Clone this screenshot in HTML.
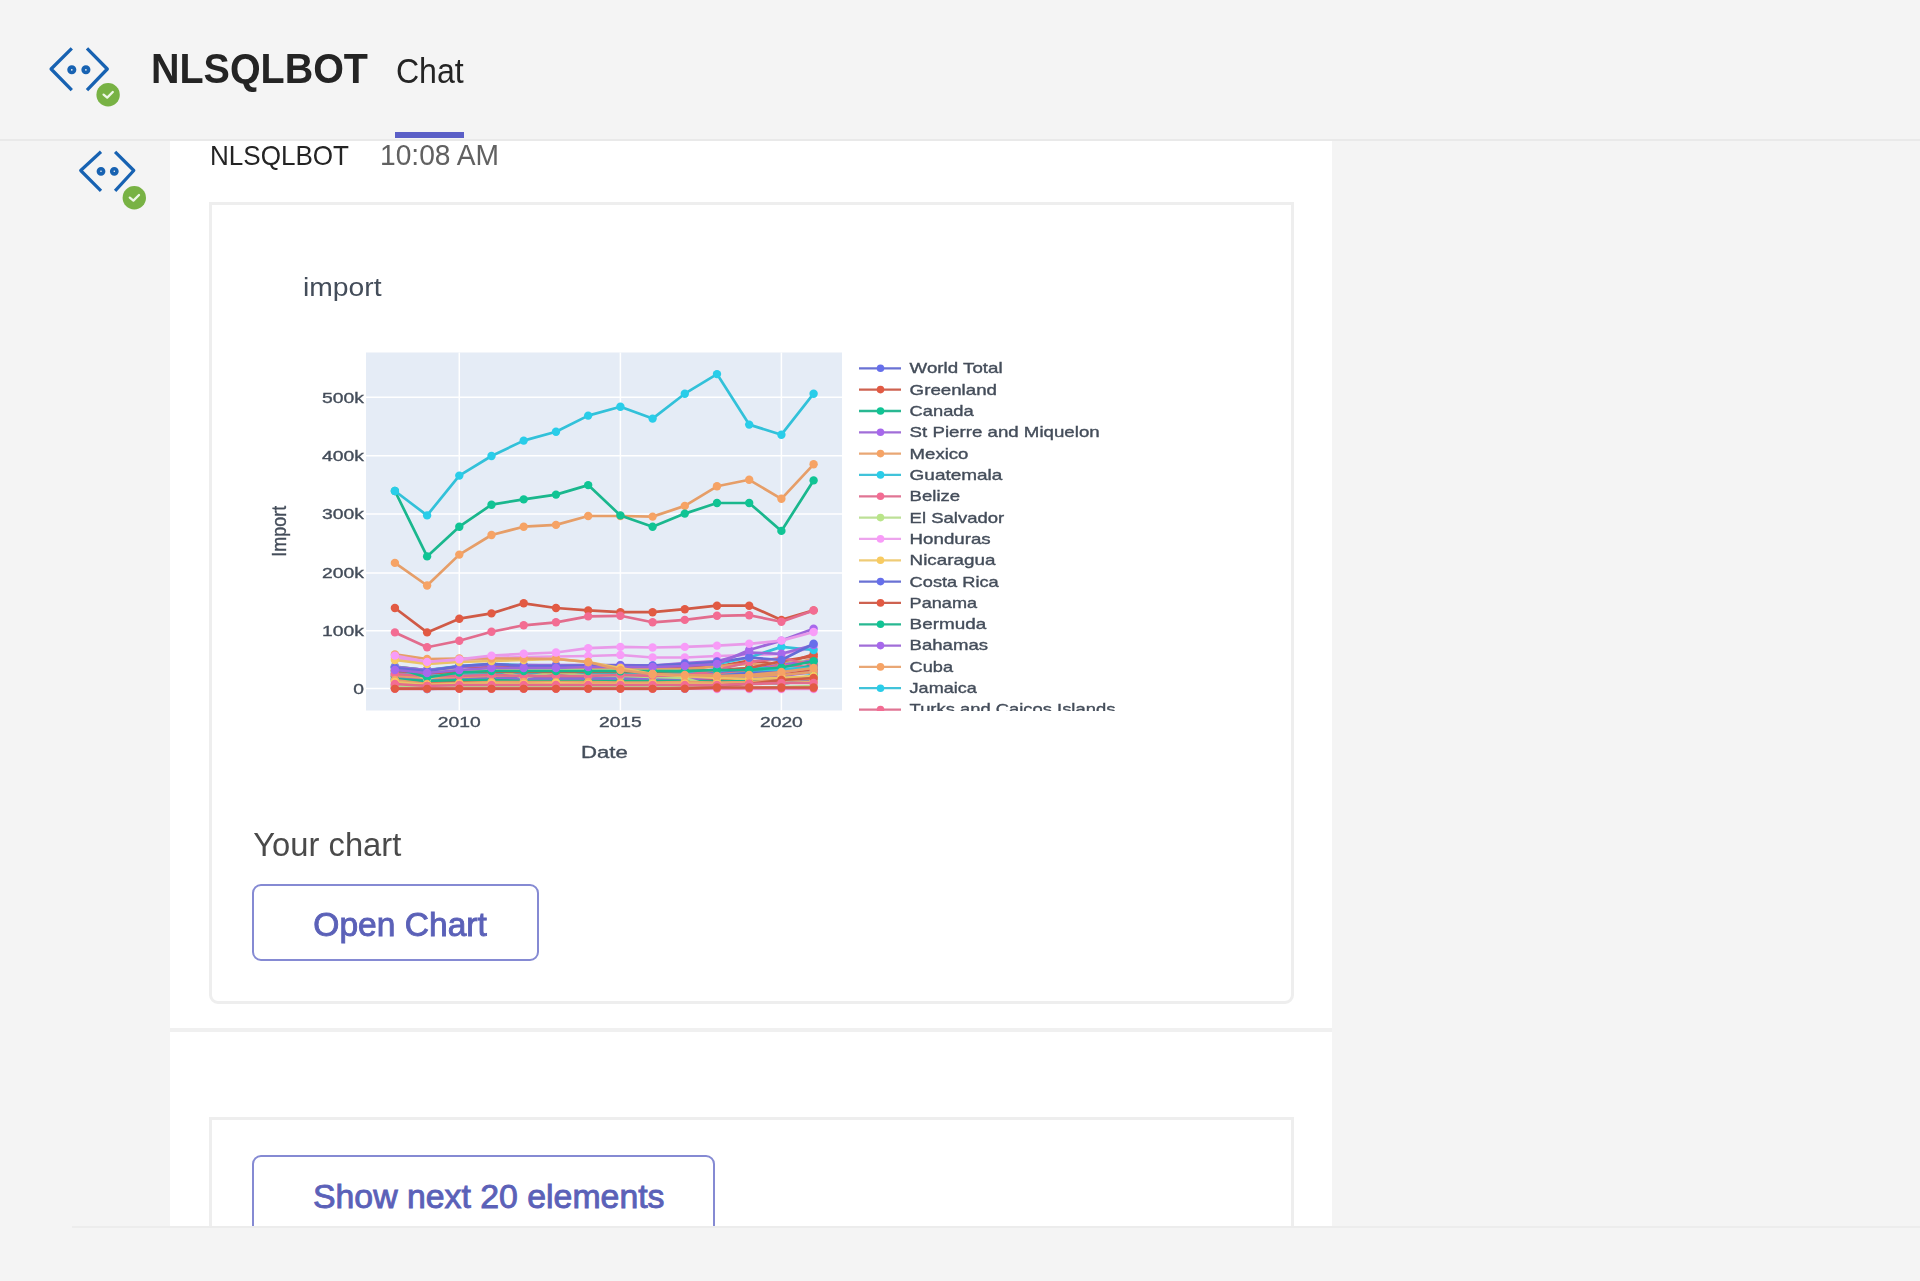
<!DOCTYPE html>
<html><head><meta charset="utf-8">
<style>
html,body{margin:0;padding:0;}
html{background:#f4f4f4;}
#wrap{position:absolute;left:0;top:0;width:1920px;height:1281px;overflow:hidden;filter:blur(0.45px);}
body{width:1920px;height:1281px;position:relative;overflow:hidden;background:#f4f4f4;font-family:"Liberation Sans",sans-serif;}
.abs{position:absolute;}
#hdrline{left:0;top:139px;width:1920px;height:2px;background:#e9e9e9;}
#panel1{left:170px;top:141px;width:1162px;height:887px;background:#fff;}
#gap{left:170px;top:1028px;width:1162px;height:4px;background:#f0f0f0;}
#panel2{left:170px;top:1032px;width:1162px;height:194px;background:#fff;}
#bottom{left:0;top:1226px;width:1920px;height:55px;background:#f4f4f4;}
#bline{left:72px;top:1226px;width:1848px;height:2px;background:#ececec;}
#card1{left:209px;top:202px;width:1079px;height:796px;border:3px solid #eeeeee;border-radius:0 0 9px 9px;background:#fff;}
#card2{left:209px;top:1117px;width:1079px;height:200px;border:3px solid #eeeeee;background:#fff;}
#tabline{left:395px;top:132px;width:69px;height:6px;background:#5b5fc7;}
.btn{border:2px solid #858ad3;border-radius:9px;background:#fff;box-sizing:border-box;}
#btn1{left:252px;top:884px;width:287px;height:77px;}
#btn2{left:252px;top:1155px;width:463px;height:100px;}
svg text{font-family:"Liberation Sans",sans-serif;}
.ct text{stroke:#444d5a;stroke-width:0.35px;}
</style></head><body><div id="wrap">
<div class="abs" id="hdrline"></div>
<div class="abs" id="panel1"></div>
<div class="abs" id="gap"></div>
<div class="abs" id="panel2"></div>
<div class="abs" id="card1"></div>
<div class="abs" id="card2"></div>
<div class="abs btn" id="btn2"></div>
<svg class="abs" style="left:0;top:1100px" width="1920" height="126" viewBox="0 1100 1920 126"><text x="313.00" y="1207.50" font-size="33" font-weight="normal" fill="#5b61b8" textLength="351.50" lengthAdjust="spacingAndGlyphs" stroke="#5b61b8" stroke-width="0.9">Show next 20 elements</text></svg>
<div class="abs" id="bottom"></div><div class="abs" id="bline"></div>

<svg class="abs" style="left:0;top:0" width="1920" height="260" viewBox="0 0 1920 260">
  <g fill="none" stroke="#1762b2" stroke-width="3.3" stroke-linecap="butt" stroke-linejoin="round">
    <polyline points="71.8,48.4 51.1,69 71.8,90.1"/>
    <polyline points="87,48.4 107.3,69 87,90.1"/>
    <circle cx="71.8" cy="69.8" r="2.7" stroke-width="3.7"/>
    <circle cx="85.9" cy="69.8" r="2.7" stroke-width="3.7"/>
  </g>
  <circle cx="108.1" cy="94.8" r="11.7" fill="#78b244"/>
  <polyline points="103.6,94.6 107.2,97.6 112.8,92" fill="none" stroke="#eef7e6" stroke-width="2.3" stroke-linecap="round" stroke-linejoin="round"/>
  <g fill="none" stroke="#1762b2" stroke-width="3.2" stroke-linecap="butt" stroke-linejoin="round">
    <polyline points="101,151.8 80.7,170.5 101,190.8"/>
    <polyline points="115.1,151.8 133.8,170.5 115.1,190.8"/>
    <circle cx="101" cy="171.3" r="2.6" stroke-width="3.6"/>
    <circle cx="114.3" cy="171.3" r="2.6" stroke-width="3.6"/>
  </g>
  <circle cx="134.3" cy="197.8" r="11.7" fill="#78b244"/>
  <polyline points="129.8,197.6 133.4,200.6 139,195" fill="none" stroke="#eef7e6" stroke-width="2.3" stroke-linecap="round" stroke-linejoin="round"/>
  <text x="151.00" y="83.40" font-size="41.8" font-weight="bold" fill="#242424" textLength="216.98" lengthAdjust="spacingAndGlyphs" >NLSQLBOT</text>
<text x="395.90" y="83.40" font-size="35.5" font-weight="normal" fill="#242424" textLength="67.81" lengthAdjust="spacingAndGlyphs" >Chat</text>
<text x="210.00" y="165.30" font-size="28" font-weight="normal" fill="#242424" textLength="139.00" lengthAdjust="spacingAndGlyphs" >NLSQLBOT</text>
<text x="380.00" y="165.20" font-size="28.8" font-weight="normal" fill="#616161" textLength="119.00" lengthAdjust="spacingAndGlyphs" >10:08 AM</text>
</svg>
<div class="abs" id="tabline"></div>

<svg class="abs" style="left:0;top:0" width="1920" height="1000" viewBox="0 0 1920 1000">
  <text x="303.00" y="295.90" font-size="25.5" font-weight="normal" fill="#444d5a" textLength="78.60" lengthAdjust="spacingAndGlyphs" >import</text>
  <rect x="366" y="352.5" width="476" height="358" fill="#e5ecf6"/>
  <line x1="366" y1="397.3" x2="842" y2="397.3" stroke="#fff" stroke-width="1.5"/><line x1="366" y1="455.7" x2="842" y2="455.7" stroke="#fff" stroke-width="1.5"/><line x1="366" y1="514.1" x2="842" y2="514.1" stroke="#fff" stroke-width="1.5"/><line x1="366" y1="572.9" x2="842" y2="572.9" stroke="#fff" stroke-width="1.5"/><line x1="366" y1="630.7" x2="842" y2="630.7" stroke="#fff" stroke-width="1.5"/><line x1="366" y1="688.6" x2="842" y2="688.6" stroke="#fff" stroke-width="1.5"/>
  <line x1="459.3" y1="352.5" x2="459.3" y2="710.5" stroke="#fff" stroke-width="1.5"/><line x1="620.4" y1="352.5" x2="620.4" y2="710.5" stroke="#fff" stroke-width="1.5"/><line x1="781.4" y1="352.5" x2="781.4" y2="710.5" stroke="#fff" stroke-width="1.5"/>
  <defs><clipPath id="pc"><rect x="366" y="352.5" width="476" height="358"/></clipPath>
  <clipPath id="lc"><rect x="850" y="352" width="400" height="359"/></clipPath></defs>
  <g clip-path="url(#pc)">
  <g fill="#e25a43"><polyline points="394.9,666.6 427.1,670.3 459.3,666.4 491.5,667.6 523.7,667.1 556.0,666.4 588.2,667.5 620.4,666.4 652.6,667.3 684.8,666.4 717.0,666.5 749.2,660.6 781.4,664.3 813.6,654.3" fill="none" stroke="#d05a46" stroke-width="2.7" stroke-linejoin="round"/><circle cx="394.9" cy="666.6" r="4.2"/><circle cx="427.1" cy="670.3" r="4.2"/><circle cx="459.3" cy="666.4" r="4.2"/><circle cx="491.5" cy="667.6" r="4.2"/><circle cx="523.7" cy="667.1" r="4.2"/><circle cx="556.0" cy="666.4" r="4.2"/><circle cx="588.2" cy="667.5" r="4.2"/><circle cx="620.4" cy="666.4" r="4.2"/><circle cx="652.6" cy="667.3" r="4.2"/><circle cx="684.8" cy="666.4" r="4.2"/><circle cx="717.0" cy="666.5" r="4.2"/><circle cx="749.2" cy="660.6" r="4.2"/><circle cx="781.4" cy="664.3" r="4.2"/><circle cx="813.6" cy="654.3" r="4.2"/></g>
<g fill="#f6a365"><polyline points="394.9,670.3 427.1,670.6 459.3,670.0 491.5,668.6 523.7,668.3 556.0,668.2 588.2,668.7 620.4,669.9 652.6,668.4 684.8,669.3 717.0,666.4 749.2,663.8 781.4,666.4 813.6,658.8" fill="none" stroke="#e69e68" stroke-width="2.7" stroke-linejoin="round"/><circle cx="394.9" cy="670.3" r="4.2"/><circle cx="427.1" cy="670.6" r="4.2"/><circle cx="459.3" cy="670.0" r="4.2"/><circle cx="491.5" cy="668.6" r="4.2"/><circle cx="523.7" cy="668.3" r="4.2"/><circle cx="556.0" cy="668.2" r="4.2"/><circle cx="588.2" cy="668.7" r="4.2"/><circle cx="620.4" cy="669.9" r="4.2"/><circle cx="652.6" cy="668.4" r="4.2"/><circle cx="684.8" cy="669.3" r="4.2"/><circle cx="717.0" cy="666.4" r="4.2"/><circle cx="749.2" cy="663.8" r="4.2"/><circle cx="781.4" cy="666.4" r="4.2"/><circle cx="813.6" cy="658.8" r="4.2"/></g>
<g fill="#b9e589"><polyline points="394.9,670.5 427.1,672.7 459.3,669.9 491.5,671.0 523.7,670.8 556.0,669.7 588.2,670.5 620.4,670.4 652.6,671.2 684.8,670.9 717.0,670.1 749.2,668.4 781.4,661.2 813.6,661.4" fill="none" stroke="#b4da8a" stroke-width="2.7" stroke-linejoin="round"/><circle cx="394.9" cy="670.5" r="4.2"/><circle cx="427.1" cy="672.7" r="4.2"/><circle cx="459.3" cy="669.9" r="4.2"/><circle cx="491.5" cy="671.0" r="4.2"/><circle cx="523.7" cy="670.8" r="4.2"/><circle cx="556.0" cy="669.7" r="4.2"/><circle cx="588.2" cy="670.5" r="4.2"/><circle cx="620.4" cy="670.4" r="4.2"/><circle cx="652.6" cy="671.2" r="4.2"/><circle cx="684.8" cy="670.9" r="4.2"/><circle cx="717.0" cy="670.1" r="4.2"/><circle cx="749.2" cy="668.4" r="4.2"/><circle cx="781.4" cy="661.2" r="4.2"/><circle cx="813.6" cy="661.4" r="4.2"/></g>
<g fill="#666feb"><polyline points="394.9,673.5 427.1,675.5 459.3,673.8 491.5,672.4 523.7,673.3 556.0,673.1 588.2,673.0 620.4,672.7 652.6,673.7 684.8,673.9 717.0,671.3 749.2,672.0 781.4,666.7 813.6,660.5" fill="none" stroke="#646cd7" stroke-width="2.7" stroke-linejoin="round"/><circle cx="394.9" cy="673.5" r="4.2"/><circle cx="427.1" cy="675.5" r="4.2"/><circle cx="459.3" cy="673.8" r="4.2"/><circle cx="491.5" cy="672.4" r="4.2"/><circle cx="523.7" cy="673.3" r="4.2"/><circle cx="556.0" cy="673.1" r="4.2"/><circle cx="588.2" cy="673.0" r="4.2"/><circle cx="620.4" cy="672.7" r="4.2"/><circle cx="652.6" cy="673.7" r="4.2"/><circle cx="684.8" cy="673.9" r="4.2"/><circle cx="717.0" cy="671.3" r="4.2"/><circle cx="749.2" cy="672.0" r="4.2"/><circle cx="781.4" cy="666.7" r="4.2"/><circle cx="813.6" cy="660.5" r="4.2"/></g>
<g fill="#a768ec"><polyline points="394.9,673.9 427.1,674.8 459.3,673.4 491.5,672.7 523.7,672.5 556.0,672.4 588.2,674.1 620.4,672.6 652.6,672.9 684.8,673.2 717.0,669.3 749.2,669.9 781.4,664.8 813.6,660.6" fill="none" stroke="#9d67da" stroke-width="2.7" stroke-linejoin="round"/><circle cx="394.9" cy="673.9" r="4.2"/><circle cx="427.1" cy="674.8" r="4.2"/><circle cx="459.3" cy="673.4" r="4.2"/><circle cx="491.5" cy="672.7" r="4.2"/><circle cx="523.7" cy="672.5" r="4.2"/><circle cx="556.0" cy="672.4" r="4.2"/><circle cx="588.2" cy="674.1" r="4.2"/><circle cx="620.4" cy="672.6" r="4.2"/><circle cx="652.6" cy="672.9" r="4.2"/><circle cx="684.8" cy="673.2" r="4.2"/><circle cx="717.0" cy="669.3" r="4.2"/><circle cx="749.2" cy="669.9" r="4.2"/><circle cx="781.4" cy="664.8" r="4.2"/><circle cx="813.6" cy="660.6" r="4.2"/></g>
<g fill="#f36c93"><polyline points="394.9,674.7 427.1,678.4 459.3,676.1 491.5,674.2 523.7,674.2 556.0,674.4 588.2,674.4 620.4,675.0 652.6,675.2 684.8,674.4 717.0,674.3 749.2,671.9 781.4,665.4 813.6,667.1" fill="none" stroke="#e26c8d" stroke-width="2.7" stroke-linejoin="round"/><circle cx="394.9" cy="674.7" r="4.2"/><circle cx="427.1" cy="678.4" r="4.2"/><circle cx="459.3" cy="676.1" r="4.2"/><circle cx="491.5" cy="674.2" r="4.2"/><circle cx="523.7" cy="674.2" r="4.2"/><circle cx="556.0" cy="674.4" r="4.2"/><circle cx="588.2" cy="674.4" r="4.2"/><circle cx="620.4" cy="675.0" r="4.2"/><circle cx="652.6" cy="675.2" r="4.2"/><circle cx="684.8" cy="674.4" r="4.2"/><circle cx="717.0" cy="674.3" r="4.2"/><circle cx="749.2" cy="671.9" r="4.2"/><circle cx="781.4" cy="665.4" r="4.2"/><circle cx="813.6" cy="667.1" r="4.2"/></g>
<g fill="#f8cb61"><polyline points="394.9,676.2 427.1,680.7 459.3,677.9 491.5,678.1 523.7,677.9 556.0,677.0 588.2,677.0 620.4,676.3 652.6,677.6 684.8,676.2 717.0,675.8 749.2,674.9 781.4,674.1 813.6,672.5" fill="none" stroke="#eac367" stroke-width="2.7" stroke-linejoin="round"/><circle cx="394.9" cy="676.2" r="4.2"/><circle cx="427.1" cy="680.7" r="4.2"/><circle cx="459.3" cy="677.9" r="4.2"/><circle cx="491.5" cy="678.1" r="4.2"/><circle cx="523.7" cy="677.9" r="4.2"/><circle cx="556.0" cy="677.0" r="4.2"/><circle cx="588.2" cy="677.0" r="4.2"/><circle cx="620.4" cy="676.3" r="4.2"/><circle cx="652.6" cy="677.6" r="4.2"/><circle cx="684.8" cy="676.2" r="4.2"/><circle cx="717.0" cy="675.8" r="4.2"/><circle cx="749.2" cy="674.9" r="4.2"/><circle cx="781.4" cy="674.1" r="4.2"/><circle cx="813.6" cy="672.5" r="4.2"/></g>
<g fill="#10c494"><polyline points="394.9,676.6 427.1,681.1 459.3,678.0 491.5,676.9 523.7,677.1 556.0,677.4 588.2,677.4 620.4,676.8 652.6,678.6 684.8,678.9 717.0,675.8 749.2,675.3 781.4,672.6 813.6,665.0" fill="none" stroke="#1ab78d" stroke-width="2.7" stroke-linejoin="round"/><circle cx="394.9" cy="676.6" r="4.2"/><circle cx="427.1" cy="681.1" r="4.2"/><circle cx="459.3" cy="678.0" r="4.2"/><circle cx="491.5" cy="676.9" r="4.2"/><circle cx="523.7" cy="677.1" r="4.2"/><circle cx="556.0" cy="677.4" r="4.2"/><circle cx="588.2" cy="677.4" r="4.2"/><circle cx="620.4" cy="676.8" r="4.2"/><circle cx="652.6" cy="678.6" r="4.2"/><circle cx="684.8" cy="678.9" r="4.2"/><circle cx="717.0" cy="675.8" r="4.2"/><circle cx="749.2" cy="675.3" r="4.2"/><circle cx="781.4" cy="672.6" r="4.2"/><circle cx="813.6" cy="665.0" r="4.2"/></g>
<g fill="#29cde9"><polyline points="394.9,679.3 427.1,680.7 459.3,677.3 491.5,678.3 523.7,677.0 556.0,678.2 588.2,679.3 620.4,679.0 652.6,678.6 684.8,677.6 717.0,675.8 749.2,672.6 781.4,669.2 813.6,674.2" fill="none" stroke="#32c1d9" stroke-width="2.7" stroke-linejoin="round"/><circle cx="394.9" cy="679.3" r="4.2"/><circle cx="427.1" cy="680.7" r="4.2"/><circle cx="459.3" cy="677.3" r="4.2"/><circle cx="491.5" cy="678.3" r="4.2"/><circle cx="523.7" cy="677.0" r="4.2"/><circle cx="556.0" cy="678.2" r="4.2"/><circle cx="588.2" cy="679.3" r="4.2"/><circle cx="620.4" cy="679.0" r="4.2"/><circle cx="652.6" cy="678.6" r="4.2"/><circle cx="684.8" cy="677.6" r="4.2"/><circle cx="717.0" cy="675.8" r="4.2"/><circle cx="749.2" cy="672.6" r="4.2"/><circle cx="781.4" cy="669.2" r="4.2"/><circle cx="813.6" cy="674.2" r="4.2"/></g>
<g fill="#f89cf8"><polyline points="394.9,683.4 427.1,685.7 459.3,683.3 491.5,683.1 523.7,681.8 556.0,682.5 588.2,682.2 620.4,681.4 652.6,681.4 684.8,682.0 717.0,681.7 749.2,675.6 781.4,673.7 813.6,668.7" fill="none" stroke="#e99ae9" stroke-width="2.7" stroke-linejoin="round"/><circle cx="394.9" cy="683.4" r="4.2"/><circle cx="427.1" cy="685.7" r="4.2"/><circle cx="459.3" cy="683.3" r="4.2"/><circle cx="491.5" cy="683.1" r="4.2"/><circle cx="523.7" cy="681.8" r="4.2"/><circle cx="556.0" cy="682.5" r="4.2"/><circle cx="588.2" cy="682.2" r="4.2"/><circle cx="620.4" cy="681.4" r="4.2"/><circle cx="652.6" cy="681.4" r="4.2"/><circle cx="684.8" cy="682.0" r="4.2"/><circle cx="717.0" cy="681.7" r="4.2"/><circle cx="749.2" cy="675.6" r="4.2"/><circle cx="781.4" cy="673.7" r="4.2"/><circle cx="813.6" cy="668.7" r="4.2"/></g>
<g fill="#e25a43"><polyline points="394.9,681.0 427.1,683.4 459.3,681.0 491.5,682.0 523.7,682.6 556.0,682.5 588.2,681.6 620.4,682.0 652.6,682.4 684.8,680.7 717.0,680.2 749.2,676.6 781.4,675.1 813.6,669.8" fill="none" stroke="#d05a46" stroke-width="2.7" stroke-linejoin="round"/><circle cx="394.9" cy="681.0" r="4.2"/><circle cx="427.1" cy="683.4" r="4.2"/><circle cx="459.3" cy="681.0" r="4.2"/><circle cx="491.5" cy="682.0" r="4.2"/><circle cx="523.7" cy="682.6" r="4.2"/><circle cx="556.0" cy="682.5" r="4.2"/><circle cx="588.2" cy="681.6" r="4.2"/><circle cx="620.4" cy="682.0" r="4.2"/><circle cx="652.6" cy="682.4" r="4.2"/><circle cx="684.8" cy="680.7" r="4.2"/><circle cx="717.0" cy="680.2" r="4.2"/><circle cx="749.2" cy="676.6" r="4.2"/><circle cx="781.4" cy="675.1" r="4.2"/><circle cx="813.6" cy="669.8" r="4.2"/></g>
<g fill="#f6a365"><polyline points="394.9,686.0 427.1,687.1 459.3,684.6 491.5,685.9 523.7,685.4 556.0,684.1 588.2,684.0 620.4,684.0 652.6,685.8 684.8,685.6 717.0,684.7 749.2,678.3 781.4,680.3 813.6,680.1" fill="none" stroke="#e69e68" stroke-width="2.7" stroke-linejoin="round"/><circle cx="394.9" cy="686.0" r="4.2"/><circle cx="427.1" cy="687.1" r="4.2"/><circle cx="459.3" cy="684.6" r="4.2"/><circle cx="491.5" cy="685.9" r="4.2"/><circle cx="523.7" cy="685.4" r="4.2"/><circle cx="556.0" cy="684.1" r="4.2"/><circle cx="588.2" cy="684.0" r="4.2"/><circle cx="620.4" cy="684.0" r="4.2"/><circle cx="652.6" cy="685.8" r="4.2"/><circle cx="684.8" cy="685.6" r="4.2"/><circle cx="717.0" cy="684.7" r="4.2"/><circle cx="749.2" cy="678.3" r="4.2"/><circle cx="781.4" cy="680.3" r="4.2"/><circle cx="813.6" cy="680.1" r="4.2"/></g>
<g fill="#b9e589"><polyline points="394.9,687.2 427.1,689.0 459.3,687.9 491.5,686.7 523.7,687.7 556.0,687.6 588.2,686.1 620.4,686.2 652.6,686.3 684.8,686.2 717.0,684.0 749.2,682.4 781.4,676.8 813.6,679.5" fill="none" stroke="#b4da8a" stroke-width="2.7" stroke-linejoin="round"/><circle cx="394.9" cy="687.2" r="4.2"/><circle cx="427.1" cy="689.0" r="4.2"/><circle cx="459.3" cy="687.9" r="4.2"/><circle cx="491.5" cy="686.7" r="4.2"/><circle cx="523.7" cy="687.7" r="4.2"/><circle cx="556.0" cy="687.6" r="4.2"/><circle cx="588.2" cy="686.1" r="4.2"/><circle cx="620.4" cy="686.2" r="4.2"/><circle cx="652.6" cy="686.3" r="4.2"/><circle cx="684.8" cy="686.2" r="4.2"/><circle cx="717.0" cy="684.0" r="4.2"/><circle cx="749.2" cy="682.4" r="4.2"/><circle cx="781.4" cy="676.8" r="4.2"/><circle cx="813.6" cy="679.5" r="4.2"/></g>
<g fill="#666feb"><polyline points="394.9,687.9 427.1,689.0 459.3,688.1 491.5,688.1 523.7,688.1 556.0,686.9 588.2,687.9 620.4,687.3 652.6,686.9 684.8,688.8 717.0,687.0 749.2,682.8 781.4,683.7 813.6,680.1" fill="none" stroke="#646cd7" stroke-width="2.7" stroke-linejoin="round"/><circle cx="394.9" cy="687.9" r="4.2"/><circle cx="427.1" cy="689.0" r="4.2"/><circle cx="459.3" cy="688.1" r="4.2"/><circle cx="491.5" cy="688.1" r="4.2"/><circle cx="523.7" cy="688.1" r="4.2"/><circle cx="556.0" cy="686.9" r="4.2"/><circle cx="588.2" cy="687.9" r="4.2"/><circle cx="620.4" cy="687.3" r="4.2"/><circle cx="652.6" cy="686.9" r="4.2"/><circle cx="684.8" cy="688.8" r="4.2"/><circle cx="717.0" cy="687.0" r="4.2"/><circle cx="749.2" cy="682.8" r="4.2"/><circle cx="781.4" cy="683.7" r="4.2"/><circle cx="813.6" cy="680.1" r="4.2"/></g>
<g fill="#a768ec"><polyline points="394.9,678.0 427.1,680.0 459.3,679.0 491.5,679.0 523.7,679.0 556.0,679.0 588.2,679.0 620.4,679.0 652.6,679.0 684.8,679.0 717.0,678.0 749.2,677.0 781.4,676.0 813.6,672.0" fill="none" stroke="#9d67da" stroke-width="2.7" stroke-linejoin="round"/><circle cx="394.9" cy="678.0" r="4.2"/><circle cx="427.1" cy="680.0" r="4.2"/><circle cx="459.3" cy="679.0" r="4.2"/><circle cx="491.5" cy="679.0" r="4.2"/><circle cx="523.7" cy="679.0" r="4.2"/><circle cx="556.0" cy="679.0" r="4.2"/><circle cx="588.2" cy="679.0" r="4.2"/><circle cx="620.4" cy="679.0" r="4.2"/><circle cx="652.6" cy="679.0" r="4.2"/><circle cx="684.8" cy="679.0" r="4.2"/><circle cx="717.0" cy="678.0" r="4.2"/><circle cx="749.2" cy="677.0" r="4.2"/><circle cx="781.4" cy="676.0" r="4.2"/><circle cx="813.6" cy="672.0" r="4.2"/></g>
<g fill="#666feb"><polyline points="394.9,676.0 427.1,678.0 459.3,677.0 491.5,677.0 523.7,677.0 556.0,677.0 588.2,677.0 620.4,677.0 652.6,677.0 684.8,677.0 717.0,676.0 749.2,673.0 781.4,672.0 813.6,667.0" fill="none" stroke="#646cd7" stroke-width="2.7" stroke-linejoin="round"/><circle cx="394.9" cy="676.0" r="4.2"/><circle cx="427.1" cy="678.0" r="4.2"/><circle cx="459.3" cy="677.0" r="4.2"/><circle cx="491.5" cy="677.0" r="4.2"/><circle cx="523.7" cy="677.0" r="4.2"/><circle cx="556.0" cy="677.0" r="4.2"/><circle cx="588.2" cy="677.0" r="4.2"/><circle cx="620.4" cy="677.0" r="4.2"/><circle cx="652.6" cy="677.0" r="4.2"/><circle cx="684.8" cy="677.0" r="4.2"/><circle cx="717.0" cy="676.0" r="4.2"/><circle cx="749.2" cy="673.0" r="4.2"/><circle cx="781.4" cy="672.0" r="4.2"/><circle cx="813.6" cy="667.0" r="4.2"/></g>
<g fill="#f6a365"><polyline points="394.9,676.0 427.1,678.0 459.3,677.0 491.5,676.0 523.7,676.0 556.0,676.0 588.2,676.0 620.4,675.0 652.6,676.0 684.8,677.0 717.0,677.0 749.2,676.0 781.4,675.0 813.6,672.0" fill="none" stroke="#e69e68" stroke-width="2.7" stroke-linejoin="round"/><circle cx="394.9" cy="676.0" r="4.2"/><circle cx="427.1" cy="678.0" r="4.2"/><circle cx="459.3" cy="677.0" r="4.2"/><circle cx="491.5" cy="676.0" r="4.2"/><circle cx="523.7" cy="676.0" r="4.2"/><circle cx="556.0" cy="676.0" r="4.2"/><circle cx="588.2" cy="676.0" r="4.2"/><circle cx="620.4" cy="675.0" r="4.2"/><circle cx="652.6" cy="676.0" r="4.2"/><circle cx="684.8" cy="677.0" r="4.2"/><circle cx="717.0" cy="677.0" r="4.2"/><circle cx="749.2" cy="676.0" r="4.2"/><circle cx="781.4" cy="675.0" r="4.2"/><circle cx="813.6" cy="672.0" r="4.2"/></g>
<g fill="#f89cf8"><polyline points="394.9,657.5 427.1,663.8 459.3,660.6 491.5,658.0 523.7,657.0 556.0,656.5 588.2,656.0 620.4,655.0 652.6,657.5 684.8,657.5 717.0,656.0 749.2,655.0 781.4,654.0 813.6,648.0" fill="none" stroke="#e99ae9" stroke-width="2.7" stroke-linejoin="round"/><circle cx="394.9" cy="657.5" r="4.2"/><circle cx="427.1" cy="663.8" r="4.2"/><circle cx="459.3" cy="660.6" r="4.2"/><circle cx="491.5" cy="658.0" r="4.2"/><circle cx="523.7" cy="657.0" r="4.2"/><circle cx="556.0" cy="656.5" r="4.2"/><circle cx="588.2" cy="656.0" r="4.2"/><circle cx="620.4" cy="655.0" r="4.2"/><circle cx="652.6" cy="657.5" r="4.2"/><circle cx="684.8" cy="657.5" r="4.2"/><circle cx="717.0" cy="656.0" r="4.2"/><circle cx="749.2" cy="655.0" r="4.2"/><circle cx="781.4" cy="654.0" r="4.2"/><circle cx="813.6" cy="648.0" r="4.2"/></g>
<g fill="#29cde9"><polyline points="394.9,672.0 427.1,676.0 459.3,674.0 491.5,673.0 523.7,673.0 556.0,673.0 588.2,673.0 620.4,673.0 652.6,673.0 684.8,672.0 717.0,671.0 749.2,668.0 781.4,669.0 813.6,667.5" fill="none" stroke="#32c1d9" stroke-width="2.7" stroke-linejoin="round"/><circle cx="394.9" cy="672.0" r="4.2"/><circle cx="427.1" cy="676.0" r="4.2"/><circle cx="459.3" cy="674.0" r="4.2"/><circle cx="491.5" cy="673.0" r="4.2"/><circle cx="523.7" cy="673.0" r="4.2"/><circle cx="556.0" cy="673.0" r="4.2"/><circle cx="588.2" cy="673.0" r="4.2"/><circle cx="620.4" cy="673.0" r="4.2"/><circle cx="652.6" cy="673.0" r="4.2"/><circle cx="684.8" cy="672.0" r="4.2"/><circle cx="717.0" cy="671.0" r="4.2"/><circle cx="749.2" cy="668.0" r="4.2"/><circle cx="781.4" cy="669.0" r="4.2"/><circle cx="813.6" cy="667.5" r="4.2"/></g>
<g fill="#10c494"><polyline points="394.9,679.0 427.1,681.0 459.3,680.0 491.5,680.0 523.7,681.0 556.0,681.0 588.2,681.0 620.4,681.0 652.6,681.0 684.8,681.0 717.0,681.5 749.2,681.0 781.4,680.0 813.6,676.0" fill="none" stroke="#1ab78d" stroke-width="2.7" stroke-linejoin="round"/><circle cx="394.9" cy="679.0" r="4.2"/><circle cx="427.1" cy="681.0" r="4.2"/><circle cx="459.3" cy="680.0" r="4.2"/><circle cx="491.5" cy="680.0" r="4.2"/><circle cx="523.7" cy="681.0" r="4.2"/><circle cx="556.0" cy="681.0" r="4.2"/><circle cx="588.2" cy="681.0" r="4.2"/><circle cx="620.4" cy="681.0" r="4.2"/><circle cx="652.6" cy="681.0" r="4.2"/><circle cx="684.8" cy="681.0" r="4.2"/><circle cx="717.0" cy="681.5" r="4.2"/><circle cx="749.2" cy="681.0" r="4.2"/><circle cx="781.4" cy="680.0" r="4.2"/><circle cx="813.6" cy="676.0" r="4.2"/></g>
<g fill="#b9e589"><polyline points="394.9,666.0 427.1,678.8 459.3,670.6 491.5,668.8 523.7,677.5 556.0,672.0 588.2,676.0 620.4,676.0 652.6,677.0 684.8,678.0 717.0,687.5 749.2,688.0 781.4,687.0 813.6,686.0" fill="none" stroke="#b4da8a" stroke-width="2.7" stroke-linejoin="round"/><circle cx="394.9" cy="666.0" r="4.2"/><circle cx="427.1" cy="678.8" r="4.2"/><circle cx="459.3" cy="670.6" r="4.2"/><circle cx="491.5" cy="668.8" r="4.2"/><circle cx="523.7" cy="677.5" r="4.2"/><circle cx="556.0" cy="672.0" r="4.2"/><circle cx="588.2" cy="676.0" r="4.2"/><circle cx="620.4" cy="676.0" r="4.2"/><circle cx="652.6" cy="677.0" r="4.2"/><circle cx="684.8" cy="678.0" r="4.2"/><circle cx="717.0" cy="687.5" r="4.2"/><circle cx="749.2" cy="688.0" r="4.2"/><circle cx="781.4" cy="687.0" r="4.2"/><circle cx="813.6" cy="686.0" r="4.2"/></g>
<g fill="#e25a43"><polyline points="394.9,671.0 427.1,673.0 459.3,672.0 491.5,672.0 523.7,672.0 556.0,672.0 588.2,672.0 620.4,672.0 652.6,672.0 684.8,671.0 717.0,670.0 749.2,668.0 781.4,661.2 813.6,656.2" fill="none" stroke="#d05a46" stroke-width="2.7" stroke-linejoin="round"/><circle cx="394.9" cy="671.0" r="4.2"/><circle cx="427.1" cy="673.0" r="4.2"/><circle cx="459.3" cy="672.0" r="4.2"/><circle cx="491.5" cy="672.0" r="4.2"/><circle cx="523.7" cy="672.0" r="4.2"/><circle cx="556.0" cy="672.0" r="4.2"/><circle cx="588.2" cy="672.0" r="4.2"/><circle cx="620.4" cy="672.0" r="4.2"/><circle cx="652.6" cy="672.0" r="4.2"/><circle cx="684.8" cy="671.0" r="4.2"/><circle cx="717.0" cy="670.0" r="4.2"/><circle cx="749.2" cy="668.0" r="4.2"/><circle cx="781.4" cy="661.2" r="4.2"/><circle cx="813.6" cy="656.2" r="4.2"/></g>
<g fill="#f36c93"><polyline points="394.9,674.0 427.1,676.0 459.3,676.0 491.5,675.0 523.7,676.0 556.0,676.0 588.2,676.0 620.4,675.0 652.6,676.0 684.8,675.0 717.0,670.0 749.2,662.0 781.4,658.0 813.6,665.0" fill="none" stroke="#e26c8d" stroke-width="2.7" stroke-linejoin="round"/><circle cx="394.9" cy="674.0" r="4.2"/><circle cx="427.1" cy="676.0" r="4.2"/><circle cx="459.3" cy="676.0" r="4.2"/><circle cx="491.5" cy="675.0" r="4.2"/><circle cx="523.7" cy="676.0" r="4.2"/><circle cx="556.0" cy="676.0" r="4.2"/><circle cx="588.2" cy="676.0" r="4.2"/><circle cx="620.4" cy="675.0" r="4.2"/><circle cx="652.6" cy="676.0" r="4.2"/><circle cx="684.8" cy="675.0" r="4.2"/><circle cx="717.0" cy="670.0" r="4.2"/><circle cx="749.2" cy="662.0" r="4.2"/><circle cx="781.4" cy="658.0" r="4.2"/><circle cx="813.6" cy="665.0" r="4.2"/></g>
<g fill="#10c494"><polyline points="394.9,667.5 427.1,677.5 459.3,672.5 491.5,671.0 523.7,671.0 556.0,671.0 588.2,671.0 620.4,671.2 652.6,671.2 684.8,671.2 717.0,670.0 749.2,670.0 781.4,667.5 813.6,661.2" fill="none" stroke="#1ab78d" stroke-width="2.7" stroke-linejoin="round"/><circle cx="394.9" cy="667.5" r="4.2"/><circle cx="427.1" cy="677.5" r="4.2"/><circle cx="459.3" cy="672.5" r="4.2"/><circle cx="491.5" cy="671.0" r="4.2"/><circle cx="523.7" cy="671.0" r="4.2"/><circle cx="556.0" cy="671.0" r="4.2"/><circle cx="588.2" cy="671.0" r="4.2"/><circle cx="620.4" cy="671.2" r="4.2"/><circle cx="652.6" cy="671.2" r="4.2"/><circle cx="684.8" cy="671.2" r="4.2"/><circle cx="717.0" cy="670.0" r="4.2"/><circle cx="749.2" cy="670.0" r="4.2"/><circle cx="781.4" cy="667.5" r="4.2"/><circle cx="813.6" cy="661.2" r="4.2"/></g>
<g fill="#29cde9"><polyline points="394.9,666.9 427.1,670.0 459.3,666.0 491.5,664.0 523.7,665.0 556.0,665.5 588.2,665.5 620.4,666.0 652.6,666.0 684.8,665.0 717.0,664.0 749.2,657.5 781.4,646.9 813.6,650.0" fill="none" stroke="#32c1d9" stroke-width="2.7" stroke-linejoin="round"/><circle cx="394.9" cy="666.9" r="4.2"/><circle cx="427.1" cy="670.0" r="4.2"/><circle cx="459.3" cy="666.0" r="4.2"/><circle cx="491.5" cy="664.0" r="4.2"/><circle cx="523.7" cy="665.0" r="4.2"/><circle cx="556.0" cy="665.5" r="4.2"/><circle cx="588.2" cy="665.5" r="4.2"/><circle cx="620.4" cy="666.0" r="4.2"/><circle cx="652.6" cy="666.0" r="4.2"/><circle cx="684.8" cy="665.0" r="4.2"/><circle cx="717.0" cy="664.0" r="4.2"/><circle cx="749.2" cy="657.5" r="4.2"/><circle cx="781.4" cy="646.9" r="4.2"/><circle cx="813.6" cy="650.0" r="4.2"/></g>
<g fill="#a768ec"><polyline points="394.9,667.0 427.1,670.0 459.3,667.0 491.5,665.0 523.7,665.0 556.0,665.0 588.2,665.0 620.4,665.0 652.6,665.6 684.8,663.0 717.0,661.2 749.2,652.5 781.4,653.8 813.6,645.0" fill="none" stroke="#9d67da" stroke-width="2.7" stroke-linejoin="round"/><circle cx="394.9" cy="667.0" r="4.2"/><circle cx="427.1" cy="670.0" r="4.2"/><circle cx="459.3" cy="667.0" r="4.2"/><circle cx="491.5" cy="665.0" r="4.2"/><circle cx="523.7" cy="665.0" r="4.2"/><circle cx="556.0" cy="665.0" r="4.2"/><circle cx="588.2" cy="665.0" r="4.2"/><circle cx="620.4" cy="665.0" r="4.2"/><circle cx="652.6" cy="665.6" r="4.2"/><circle cx="684.8" cy="663.0" r="4.2"/><circle cx="717.0" cy="661.2" r="4.2"/><circle cx="749.2" cy="652.5" r="4.2"/><circle cx="781.4" cy="653.8" r="4.2"/><circle cx="813.6" cy="645.0" r="4.2"/></g>
<g fill="#666feb"><polyline points="394.9,668.0 427.1,671.2 459.3,666.2 491.5,663.8 523.7,666.2 556.0,666.2 588.2,665.6 620.4,665.5 652.6,665.5 684.8,664.0 717.0,662.0 749.2,657.5 781.4,660.0 813.6,643.8" fill="none" stroke="#646cd7" stroke-width="2.7" stroke-linejoin="round"/><circle cx="394.9" cy="668.0" r="4.2"/><circle cx="427.1" cy="671.2" r="4.2"/><circle cx="459.3" cy="666.2" r="4.2"/><circle cx="491.5" cy="663.8" r="4.2"/><circle cx="523.7" cy="666.2" r="4.2"/><circle cx="556.0" cy="666.2" r="4.2"/><circle cx="588.2" cy="665.6" r="4.2"/><circle cx="620.4" cy="665.5" r="4.2"/><circle cx="652.6" cy="665.5" r="4.2"/><circle cx="684.8" cy="664.0" r="4.2"/><circle cx="717.0" cy="662.0" r="4.2"/><circle cx="749.2" cy="657.5" r="4.2"/><circle cx="781.4" cy="660.0" r="4.2"/><circle cx="813.6" cy="643.8" r="4.2"/></g>
<g fill="#a768ec"><polyline points="394.9,670.0 427.1,673.0 459.3,670.0 491.5,668.0 523.7,668.0 556.0,668.0 588.2,667.0 620.4,667.0 652.6,667.0 684.8,666.0 717.0,664.0 749.2,650.0 781.4,640.6 813.6,628.8" fill="none" stroke="#9d67da" stroke-width="2.7" stroke-linejoin="round"/><circle cx="394.9" cy="670.0" r="4.2"/><circle cx="427.1" cy="673.0" r="4.2"/><circle cx="459.3" cy="670.0" r="4.2"/><circle cx="491.5" cy="668.0" r="4.2"/><circle cx="523.7" cy="668.0" r="4.2"/><circle cx="556.0" cy="668.0" r="4.2"/><circle cx="588.2" cy="667.0" r="4.2"/><circle cx="620.4" cy="667.0" r="4.2"/><circle cx="652.6" cy="667.0" r="4.2"/><circle cx="684.8" cy="666.0" r="4.2"/><circle cx="717.0" cy="664.0" r="4.2"/><circle cx="749.2" cy="650.0" r="4.2"/><circle cx="781.4" cy="640.6" r="4.2"/><circle cx="813.6" cy="628.8" r="4.2"/></g>
<g fill="#f8cb61"><polyline points="394.9,660.0 427.1,664.0 459.3,662.0 491.5,661.0 523.7,660.0 556.0,658.8 588.2,662.0 620.4,668.0 652.6,674.0 684.8,676.0 717.0,678.0 749.2,679.0 781.4,678.0 813.6,676.0" fill="none" stroke="#eac367" stroke-width="2.7" stroke-linejoin="round"/><circle cx="394.9" cy="660.0" r="4.2"/><circle cx="427.1" cy="664.0" r="4.2"/><circle cx="459.3" cy="662.0" r="4.2"/><circle cx="491.5" cy="661.0" r="4.2"/><circle cx="523.7" cy="660.0" r="4.2"/><circle cx="556.0" cy="658.8" r="4.2"/><circle cx="588.2" cy="662.0" r="4.2"/><circle cx="620.4" cy="668.0" r="4.2"/><circle cx="652.6" cy="674.0" r="4.2"/><circle cx="684.8" cy="676.0" r="4.2"/><circle cx="717.0" cy="678.0" r="4.2"/><circle cx="749.2" cy="679.0" r="4.2"/><circle cx="781.4" cy="678.0" r="4.2"/><circle cx="813.6" cy="676.0" r="4.2"/></g>
<g fill="#f6a365"><polyline points="394.9,654.4 427.1,659.0 459.3,658.5 491.5,658.5 523.7,658.5 556.0,659.0 588.2,662.0 620.4,670.0 652.6,674.0 684.8,675.0 717.0,676.0 749.2,675.0 781.4,672.0 813.6,668.0" fill="none" stroke="#e69e68" stroke-width="2.7" stroke-linejoin="round"/><circle cx="394.9" cy="654.4" r="4.2"/><circle cx="427.1" cy="659.0" r="4.2"/><circle cx="459.3" cy="658.5" r="4.2"/><circle cx="491.5" cy="658.5" r="4.2"/><circle cx="523.7" cy="658.5" r="4.2"/><circle cx="556.0" cy="659.0" r="4.2"/><circle cx="588.2" cy="662.0" r="4.2"/><circle cx="620.4" cy="670.0" r="4.2"/><circle cx="652.6" cy="674.0" r="4.2"/><circle cx="684.8" cy="675.0" r="4.2"/><circle cx="717.0" cy="676.0" r="4.2"/><circle cx="749.2" cy="675.0" r="4.2"/><circle cx="781.4" cy="672.0" r="4.2"/><circle cx="813.6" cy="668.0" r="4.2"/></g>
<g fill="#f89cf8"><polyline points="394.9,655.6 427.1,661.9 459.3,659.4 491.5,655.6 523.7,653.8 556.0,652.5 588.2,648.1 620.4,646.9 652.6,647.5 684.8,646.9 717.0,645.6 749.2,643.8 781.4,640.6 813.6,632.0" fill="none" stroke="#e99ae9" stroke-width="2.7" stroke-linejoin="round"/><circle cx="394.9" cy="655.6" r="4.2"/><circle cx="427.1" cy="661.9" r="4.2"/><circle cx="459.3" cy="659.4" r="4.2"/><circle cx="491.5" cy="655.6" r="4.2"/><circle cx="523.7" cy="653.8" r="4.2"/><circle cx="556.0" cy="652.5" r="4.2"/><circle cx="588.2" cy="648.1" r="4.2"/><circle cx="620.4" cy="646.9" r="4.2"/><circle cx="652.6" cy="647.5" r="4.2"/><circle cx="684.8" cy="646.9" r="4.2"/><circle cx="717.0" cy="645.6" r="4.2"/><circle cx="749.2" cy="643.8" r="4.2"/><circle cx="781.4" cy="640.6" r="4.2"/><circle cx="813.6" cy="632.0" r="4.2"/></g>
<g fill="#f6a365"><polyline points="394.9,680.0 427.1,684.0 459.3,683.0 491.5,682.0 523.7,682.0 556.0,682.0 588.2,682.0 620.4,682.5 652.6,682.5 684.8,682.0 717.0,682.5 749.2,682.0 781.4,680.0 813.6,679.0" fill="none" stroke="#e69e68" stroke-width="2.7" stroke-linejoin="round"/><circle cx="394.9" cy="680.0" r="4.2"/><circle cx="427.1" cy="684.0" r="4.2"/><circle cx="459.3" cy="683.0" r="4.2"/><circle cx="491.5" cy="682.0" r="4.2"/><circle cx="523.7" cy="682.0" r="4.2"/><circle cx="556.0" cy="682.0" r="4.2"/><circle cx="588.2" cy="682.0" r="4.2"/><circle cx="620.4" cy="682.5" r="4.2"/><circle cx="652.6" cy="682.5" r="4.2"/><circle cx="684.8" cy="682.0" r="4.2"/><circle cx="717.0" cy="682.5" r="4.2"/><circle cx="749.2" cy="682.0" r="4.2"/><circle cx="781.4" cy="680.0" r="4.2"/><circle cx="813.6" cy="679.0" r="4.2"/></g>
<g fill="#f8cb61"><polyline points="394.9,682.0 427.1,685.0 459.3,684.0 491.5,683.5 523.7,684.0 556.0,683.0 588.2,684.0 620.4,684.0 652.6,684.0 684.8,683.8 717.0,684.0 749.2,684.0 781.4,683.0 813.6,682.0" fill="none" stroke="#eac367" stroke-width="2.7" stroke-linejoin="round"/><circle cx="394.9" cy="682.0" r="4.2"/><circle cx="427.1" cy="685.0" r="4.2"/><circle cx="459.3" cy="684.0" r="4.2"/><circle cx="491.5" cy="683.5" r="4.2"/><circle cx="523.7" cy="684.0" r="4.2"/><circle cx="556.0" cy="683.0" r="4.2"/><circle cx="588.2" cy="684.0" r="4.2"/><circle cx="620.4" cy="684.0" r="4.2"/><circle cx="652.6" cy="684.0" r="4.2"/><circle cx="684.8" cy="683.8" r="4.2"/><circle cx="717.0" cy="684.0" r="4.2"/><circle cx="749.2" cy="684.0" r="4.2"/><circle cx="781.4" cy="683.0" r="4.2"/><circle cx="813.6" cy="682.0" r="4.2"/></g>
<g fill="#e25a43"><polyline points="394.9,685.0 427.1,686.0 459.3,686.0 491.5,686.0 523.7,686.0 556.0,686.0 588.2,686.0 620.4,686.5 652.6,686.5 684.8,686.0 717.0,685.5 749.2,684.0 781.4,680.0 813.6,678.0" fill="none" stroke="#d05a46" stroke-width="2.7" stroke-linejoin="round"/><circle cx="394.9" cy="685.0" r="4.2"/><circle cx="427.1" cy="686.0" r="4.2"/><circle cx="459.3" cy="686.0" r="4.2"/><circle cx="491.5" cy="686.0" r="4.2"/><circle cx="523.7" cy="686.0" r="4.2"/><circle cx="556.0" cy="686.0" r="4.2"/><circle cx="588.2" cy="686.0" r="4.2"/><circle cx="620.4" cy="686.5" r="4.2"/><circle cx="652.6" cy="686.5" r="4.2"/><circle cx="684.8" cy="686.0" r="4.2"/><circle cx="717.0" cy="685.5" r="4.2"/><circle cx="749.2" cy="684.0" r="4.2"/><circle cx="781.4" cy="680.0" r="4.2"/><circle cx="813.6" cy="678.0" r="4.2"/></g>
<g fill="#b9e589"><polyline points="394.9,686.0 427.1,687.0 459.3,687.0 491.5,687.0 523.7,687.0 556.0,687.0 588.2,687.0 620.4,687.0 652.6,687.0 684.8,687.5 717.0,688.0 749.2,688.0 781.4,688.0 813.6,687.0" fill="none" stroke="#b4da8a" stroke-width="2.7" stroke-linejoin="round"/><circle cx="394.9" cy="686.0" r="4.2"/><circle cx="427.1" cy="687.0" r="4.2"/><circle cx="459.3" cy="687.0" r="4.2"/><circle cx="491.5" cy="687.0" r="4.2"/><circle cx="523.7" cy="687.0" r="4.2"/><circle cx="556.0" cy="687.0" r="4.2"/><circle cx="588.2" cy="687.0" r="4.2"/><circle cx="620.4" cy="687.0" r="4.2"/><circle cx="652.6" cy="687.0" r="4.2"/><circle cx="684.8" cy="687.5" r="4.2"/><circle cx="717.0" cy="688.0" r="4.2"/><circle cx="749.2" cy="688.0" r="4.2"/><circle cx="781.4" cy="688.0" r="4.2"/><circle cx="813.6" cy="687.0" r="4.2"/></g>
<g fill="#f36c93"><polyline points="394.9,684.0 427.1,686.0 459.3,685.0 491.5,685.0 523.7,685.0 556.0,685.0 588.2,685.0 620.4,685.0 652.6,685.0 684.8,685.0 717.0,685.0 749.2,684.0 781.4,683.0 813.6,683.0" fill="none" stroke="#e26c8d" stroke-width="2.7" stroke-linejoin="round"/><circle cx="394.9" cy="684.0" r="4.2"/><circle cx="427.1" cy="686.0" r="4.2"/><circle cx="459.3" cy="685.0" r="4.2"/><circle cx="491.5" cy="685.0" r="4.2"/><circle cx="523.7" cy="685.0" r="4.2"/><circle cx="556.0" cy="685.0" r="4.2"/><circle cx="588.2" cy="685.0" r="4.2"/><circle cx="620.4" cy="685.0" r="4.2"/><circle cx="652.6" cy="685.0" r="4.2"/><circle cx="684.8" cy="685.0" r="4.2"/><circle cx="717.0" cy="685.0" r="4.2"/><circle cx="749.2" cy="684.0" r="4.2"/><circle cx="781.4" cy="683.0" r="4.2"/><circle cx="813.6" cy="683.0" r="4.2"/></g>
<g fill="#f89cf8"><polyline points="394.9,688.6 427.1,688.6 459.3,688.6 491.5,688.6 523.7,688.6 556.0,688.6 588.2,688.6 620.4,688.6 652.6,688.6 684.8,688.6 717.0,689.0 749.2,689.0 781.4,689.0 813.6,689.0" fill="none" stroke="#e99ae9" stroke-width="2.7" stroke-linejoin="round"/><circle cx="394.9" cy="688.6" r="4.2"/><circle cx="427.1" cy="688.6" r="4.2"/><circle cx="459.3" cy="688.6" r="4.2"/><circle cx="491.5" cy="688.6" r="4.2"/><circle cx="523.7" cy="688.6" r="4.2"/><circle cx="556.0" cy="688.6" r="4.2"/><circle cx="588.2" cy="688.6" r="4.2"/><circle cx="620.4" cy="688.6" r="4.2"/><circle cx="652.6" cy="688.6" r="4.2"/><circle cx="684.8" cy="688.6" r="4.2"/><circle cx="717.0" cy="689.0" r="4.2"/><circle cx="749.2" cy="689.0" r="4.2"/><circle cx="781.4" cy="689.0" r="4.2"/><circle cx="813.6" cy="689.0" r="4.2"/></g>
<g fill="#f36c93"><polyline points="394.9,688.8 427.1,688.8 459.3,688.8 491.5,688.8 523.7,688.8 556.0,688.8 588.2,688.8 620.4,688.8 652.6,688.8 684.8,688.2 717.0,688.2 749.2,688.2 781.4,688.2 813.6,688.2" fill="none" stroke="#e26c8d" stroke-width="2.7" stroke-linejoin="round"/><circle cx="394.9" cy="688.8" r="4.2"/><circle cx="427.1" cy="688.8" r="4.2"/><circle cx="459.3" cy="688.8" r="4.2"/><circle cx="491.5" cy="688.8" r="4.2"/><circle cx="523.7" cy="688.8" r="4.2"/><circle cx="556.0" cy="688.8" r="4.2"/><circle cx="588.2" cy="688.8" r="4.2"/><circle cx="620.4" cy="688.8" r="4.2"/><circle cx="652.6" cy="688.8" r="4.2"/><circle cx="684.8" cy="688.2" r="4.2"/><circle cx="717.0" cy="688.2" r="4.2"/><circle cx="749.2" cy="688.2" r="4.2"/><circle cx="781.4" cy="688.2" r="4.2"/><circle cx="813.6" cy="688.2" r="4.2"/></g>
<g fill="#e25a43"><polyline points="394.9,688.6 427.1,688.6 459.3,688.6 491.5,688.6 523.7,688.6 556.0,688.6 588.2,688.6 620.4,688.6 652.6,688.6 684.8,688.6 717.0,687.5 749.2,687.5 781.4,687.5 813.6,687.5" fill="none" stroke="#d05a46" stroke-width="2.7" stroke-linejoin="round"/><circle cx="394.9" cy="688.6" r="4.2"/><circle cx="427.1" cy="688.6" r="4.2"/><circle cx="459.3" cy="688.6" r="4.2"/><circle cx="491.5" cy="688.6" r="4.2"/><circle cx="523.7" cy="688.6" r="4.2"/><circle cx="556.0" cy="688.6" r="4.2"/><circle cx="588.2" cy="688.6" r="4.2"/><circle cx="620.4" cy="688.6" r="4.2"/><circle cx="652.6" cy="688.6" r="4.2"/><circle cx="684.8" cy="688.6" r="4.2"/><circle cx="717.0" cy="687.5" r="4.2"/><circle cx="749.2" cy="687.5" r="4.2"/><circle cx="781.4" cy="687.5" r="4.2"/><circle cx="813.6" cy="687.5" r="4.2"/></g>
<g fill="#e25a43"><polyline points="394.9,608.0 427.1,632.4 459.3,618.7 491.5,613.4 523.7,603.3 556.0,608.0 588.2,610.4 620.4,612.2 652.6,612.2 684.8,609.2 717.0,605.7 749.2,605.7 781.4,619.9 813.6,610.4" fill="none" stroke="#d05a46" stroke-width="2.7" stroke-linejoin="round"/><circle cx="394.9" cy="608.0" r="4.2"/><circle cx="427.1" cy="632.4" r="4.2"/><circle cx="459.3" cy="618.7" r="4.2"/><circle cx="491.5" cy="613.4" r="4.2"/><circle cx="523.7" cy="603.3" r="4.2"/><circle cx="556.0" cy="608.0" r="4.2"/><circle cx="588.2" cy="610.4" r="4.2"/><circle cx="620.4" cy="612.2" r="4.2"/><circle cx="652.6" cy="612.2" r="4.2"/><circle cx="684.8" cy="609.2" r="4.2"/><circle cx="717.0" cy="605.7" r="4.2"/><circle cx="749.2" cy="605.7" r="4.2"/><circle cx="781.4" cy="619.9" r="4.2"/><circle cx="813.6" cy="610.4" r="4.2"/></g>
<g fill="#f36c93"><polyline points="394.9,632.4 427.1,647.2 459.3,640.7 491.5,631.8 523.7,625.3 556.0,622.3 588.2,616.4 620.4,615.8 652.6,622.3 684.8,619.9 717.0,615.8 749.2,615.2 781.4,621.7 813.6,610.4" fill="none" stroke="#e26c8d" stroke-width="2.7" stroke-linejoin="round"/><circle cx="394.9" cy="632.4" r="4.2"/><circle cx="427.1" cy="647.2" r="4.2"/><circle cx="459.3" cy="640.7" r="4.2"/><circle cx="491.5" cy="631.8" r="4.2"/><circle cx="523.7" cy="625.3" r="4.2"/><circle cx="556.0" cy="622.3" r="4.2"/><circle cx="588.2" cy="616.4" r="4.2"/><circle cx="620.4" cy="615.8" r="4.2"/><circle cx="652.6" cy="622.3" r="4.2"/><circle cx="684.8" cy="619.9" r="4.2"/><circle cx="717.0" cy="615.8" r="4.2"/><circle cx="749.2" cy="615.2" r="4.2"/><circle cx="781.4" cy="621.7" r="4.2"/><circle cx="813.6" cy="610.4" r="4.2"/></g>
<g fill="#f6a365"><polyline points="394.9,562.9 427.1,585.5 459.3,554.6 491.5,535.0 523.7,526.7 556.0,524.9 588.2,516.0 620.4,516.0 652.6,516.6 684.8,505.9 717.0,486.3 749.2,479.8 781.4,498.8 813.6,464.3" fill="none" stroke="#e69e68" stroke-width="2.7" stroke-linejoin="round"/><circle cx="394.9" cy="562.9" r="4.2"/><circle cx="427.1" cy="585.5" r="4.2"/><circle cx="459.3" cy="554.6" r="4.2"/><circle cx="491.5" cy="535.0" r="4.2"/><circle cx="523.7" cy="526.7" r="4.2"/><circle cx="556.0" cy="524.9" r="4.2"/><circle cx="588.2" cy="516.0" r="4.2"/><circle cx="620.4" cy="516.0" r="4.2"/><circle cx="652.6" cy="516.6" r="4.2"/><circle cx="684.8" cy="505.9" r="4.2"/><circle cx="717.0" cy="486.3" r="4.2"/><circle cx="749.2" cy="479.8" r="4.2"/><circle cx="781.4" cy="498.8" r="4.2"/><circle cx="813.6" cy="464.3" r="4.2"/></g>
<g fill="#10c494"><polyline points="394.9,491.0 427.1,556.4 459.3,526.7 491.5,504.7 523.7,499.4 556.0,494.6 588.2,485.1 620.4,515.4 652.6,526.7 684.8,513.6 717.0,503.0 749.2,503.0 781.4,530.9 813.6,480.4" fill="none" stroke="#1ab78d" stroke-width="2.7" stroke-linejoin="round"/><circle cx="394.9" cy="491.0" r="4.2"/><circle cx="427.1" cy="556.4" r="4.2"/><circle cx="459.3" cy="526.7" r="4.2"/><circle cx="491.5" cy="504.7" r="4.2"/><circle cx="523.7" cy="499.4" r="4.2"/><circle cx="556.0" cy="494.6" r="4.2"/><circle cx="588.2" cy="485.1" r="4.2"/><circle cx="620.4" cy="515.4" r="4.2"/><circle cx="652.6" cy="526.7" r="4.2"/><circle cx="684.8" cy="513.6" r="4.2"/><circle cx="717.0" cy="503.0" r="4.2"/><circle cx="749.2" cy="503.0" r="4.2"/><circle cx="781.4" cy="530.9" r="4.2"/><circle cx="813.6" cy="480.4" r="4.2"/></g>
<g fill="#29cde9"><polyline points="394.9,491.0 427.1,515.4 459.3,475.6 491.5,456.0 523.7,440.6 556.0,431.7 588.2,415.6 620.4,406.7 652.6,418.6 684.8,393.7 717.0,374.1 749.2,424.6 781.4,434.7 813.6,393.7" fill="none" stroke="#32c1d9" stroke-width="2.7" stroke-linejoin="round"/><circle cx="394.9" cy="491.0" r="4.2"/><circle cx="427.1" cy="515.4" r="4.2"/><circle cx="459.3" cy="475.6" r="4.2"/><circle cx="491.5" cy="456.0" r="4.2"/><circle cx="523.7" cy="440.6" r="4.2"/><circle cx="556.0" cy="431.7" r="4.2"/><circle cx="588.2" cy="415.6" r="4.2"/><circle cx="620.4" cy="406.7" r="4.2"/><circle cx="652.6" cy="418.6" r="4.2"/><circle cx="684.8" cy="393.7" r="4.2"/><circle cx="717.0" cy="374.1" r="4.2"/><circle cx="749.2" cy="424.6" r="4.2"/><circle cx="781.4" cy="434.7" r="4.2"/><circle cx="813.6" cy="393.7" r="4.2"/></g>
  </g>
  <g class="ct"><text x="321.98" y="402.50" font-size="14.6" font-weight="normal" fill="#444d5a" textLength="41.89" lengthAdjust="spacingAndGlyphs" >500k</text><text x="321.98" y="460.90" font-size="14.6" font-weight="normal" fill="#444d5a" textLength="41.89" lengthAdjust="spacingAndGlyphs" >400k</text><text x="321.98" y="519.30" font-size="14.6" font-weight="normal" fill="#444d5a" textLength="41.89" lengthAdjust="spacingAndGlyphs" >300k</text><text x="321.98" y="578.10" font-size="14.6" font-weight="normal" fill="#444d5a" textLength="41.89" lengthAdjust="spacingAndGlyphs" >200k</text><text x="321.98" y="635.90" font-size="14.6" font-weight="normal" fill="#444d5a" textLength="41.89" lengthAdjust="spacingAndGlyphs" >100k</text><text x="353.18" y="693.80" font-size="14.6" font-weight="normal" fill="#444d5a" textLength="10.72" lengthAdjust="spacingAndGlyphs" >0</text><text x="437.88" y="726.50" font-size="14.8" font-weight="normal" fill="#444d5a" textLength="42.88" lengthAdjust="spacingAndGlyphs" >2010</text><text x="598.93" y="726.50" font-size="14.8" font-weight="normal" fill="#444d5a" textLength="42.88" lengthAdjust="spacingAndGlyphs" >2015</text><text x="759.98" y="726.50" font-size="14.8" font-weight="normal" fill="#444d5a" textLength="42.88" lengthAdjust="spacingAndGlyphs" >2020</text>
  <text x="580.98" y="757.90" font-size="16.8" font-weight="normal" fill="#444d5a" textLength="46.85" lengthAdjust="spacingAndGlyphs" >Date</text>
  <text x="0.00" y="0.00" font-size="19.6" font-weight="normal" fill="#444d5a" textLength="51.00" lengthAdjust="spacingAndGlyphs" transform="translate(286.3,556.7) rotate(-90)">Import</text></g>
  <g clip-path="url(#lc)" class="ct">
  <line x1="859" y1="368.3" x2="901" y2="368.3" stroke="#6a72d4" stroke-width="2.3"/><circle cx="880.5" cy="368.3" r="3.8" fill="#666feb"/><text x="909.60" y="373.20" font-size="14.6" font-weight="normal" fill="#444d5a" textLength="93.00" lengthAdjust="spacingAndGlyphs" >World Total</text>
<line x1="859" y1="389.6" x2="901" y2="389.6" stroke="#ce6250" stroke-width="2.3"/><circle cx="880.5" cy="389.6" r="3.8" fill="#e25a43"/><text x="909.60" y="394.53" font-size="14.6" font-weight="normal" fill="#444d5a" textLength="87.42" lengthAdjust="spacingAndGlyphs" >Greenland</text>
<line x1="859" y1="411.0" x2="901" y2="411.0" stroke="#29b892" stroke-width="2.3"/><circle cx="880.5" cy="411.0" r="3.8" fill="#10c494"/><text x="909.60" y="415.86" font-size="14.6" font-weight="normal" fill="#444d5a" textLength="64.10" lengthAdjust="spacingAndGlyphs" >Canada</text>
<line x1="859" y1="432.3" x2="901" y2="432.3" stroke="#a16ed8" stroke-width="2.3"/><circle cx="880.5" cy="432.3" r="3.8" fill="#a768ec"/><text x="909.60" y="437.19" font-size="14.6" font-weight="normal" fill="#444d5a" textLength="190.11" lengthAdjust="spacingAndGlyphs" >St Pierre and Miquelon</text>
<line x1="859" y1="453.6" x2="901" y2="453.6" stroke="#e9a775" stroke-width="2.3"/><circle cx="880.5" cy="453.6" r="3.8" fill="#f6a365"/><text x="909.60" y="458.52" font-size="14.6" font-weight="normal" fill="#444d5a" textLength="58.83" lengthAdjust="spacingAndGlyphs" >Mexico</text>
<line x1="859" y1="474.9" x2="901" y2="474.9" stroke="#41c3da" stroke-width="2.3"/><circle cx="880.5" cy="474.9" r="3.8" fill="#29cde9"/><text x="909.60" y="479.85" font-size="14.6" font-weight="normal" fill="#444d5a" textLength="92.77" lengthAdjust="spacingAndGlyphs" >Guatemala</text>
<line x1="859" y1="496.3" x2="901" y2="496.3" stroke="#e07594" stroke-width="2.3"/><circle cx="880.5" cy="496.3" r="3.8" fill="#f36c93"/><text x="909.60" y="501.18" font-size="14.6" font-weight="normal" fill="#444d5a" textLength="50.49" lengthAdjust="spacingAndGlyphs" >Belize</text>
<line x1="859" y1="517.6" x2="901" y2="517.6" stroke="#bde097" stroke-width="2.3"/><circle cx="880.5" cy="517.6" r="3.8" fill="#b9e589"/><text x="909.60" y="522.51" font-size="14.6" font-weight="normal" fill="#444d5a" textLength="94.63" lengthAdjust="spacingAndGlyphs" >El Salvador</text>
<line x1="859" y1="538.9" x2="901" y2="538.9" stroke="#eda4ed" stroke-width="2.3"/><circle cx="880.5" cy="538.9" r="3.8" fill="#f89cf8"/><text x="909.60" y="543.84" font-size="14.6" font-weight="normal" fill="#444d5a" textLength="81.06" lengthAdjust="spacingAndGlyphs" >Honduras</text>
<line x1="859" y1="560.3" x2="901" y2="560.3" stroke="#efcc77" stroke-width="2.3"/><circle cx="880.5" cy="560.3" r="3.8" fill="#f8cb61"/><text x="909.60" y="565.17" font-size="14.6" font-weight="normal" fill="#444d5a" textLength="85.82" lengthAdjust="spacingAndGlyphs" >Nicaragua</text>
<line x1="859" y1="581.6" x2="901" y2="581.6" stroke="#6a72d4" stroke-width="2.3"/><circle cx="880.5" cy="581.6" r="3.8" fill="#666feb"/><text x="909.60" y="586.50" font-size="14.6" font-weight="normal" fill="#444d5a" textLength="89.11" lengthAdjust="spacingAndGlyphs" >Costa Rica</text>
<line x1="859" y1="602.9" x2="901" y2="602.9" stroke="#ce6250" stroke-width="2.3"/><circle cx="880.5" cy="602.9" r="3.8" fill="#e25a43"/><text x="909.60" y="607.83" font-size="14.6" font-weight="normal" fill="#444d5a" textLength="67.46" lengthAdjust="spacingAndGlyphs" >Panama</text>
<line x1="859" y1="624.3" x2="901" y2="624.3" stroke="#29b892" stroke-width="2.3"/><circle cx="880.5" cy="624.3" r="3.8" fill="#10c494"/><text x="909.60" y="629.16" font-size="14.6" font-weight="normal" fill="#444d5a" textLength="76.64" lengthAdjust="spacingAndGlyphs" >Bermuda</text>
<line x1="859" y1="645.6" x2="901" y2="645.6" stroke="#a16ed8" stroke-width="2.3"/><circle cx="880.5" cy="645.6" r="3.8" fill="#a768ec"/><text x="909.60" y="650.49" font-size="14.6" font-weight="normal" fill="#444d5a" textLength="78.40" lengthAdjust="spacingAndGlyphs" >Bahamas</text>
<line x1="859" y1="666.9" x2="901" y2="666.9" stroke="#e9a775" stroke-width="2.3"/><circle cx="880.5" cy="666.9" r="3.8" fill="#f6a365"/><text x="909.60" y="671.82" font-size="14.6" font-weight="normal" fill="#444d5a" textLength="43.47" lengthAdjust="spacingAndGlyphs" >Cuba</text>
<line x1="859" y1="688.2" x2="901" y2="688.2" stroke="#41c3da" stroke-width="2.3"/><circle cx="880.5" cy="688.2" r="3.8" fill="#29cde9"/><text x="909.60" y="693.15" font-size="14.6" font-weight="normal" fill="#444d5a" textLength="67.16" lengthAdjust="spacingAndGlyphs" >Jamaica</text>
<line x1="859" y1="709.6" x2="901" y2="709.6" stroke="#e07594" stroke-width="2.3"/><circle cx="880.5" cy="709.6" r="3.8" fill="#f36c93"/><text x="909.60" y="714.48" font-size="14.6" font-weight="normal" fill="#444d5a" textLength="205.74" lengthAdjust="spacingAndGlyphs" >Turks and Caicos Islands</text>
  </g>
</svg>
<div class="abs btn" id="btn1"></div>
<svg class="abs" style="left:0;top:800px" width="1920" height="200" viewBox="0 800 1920 200"><text x="253.30" y="855.80" font-size="33.8" font-weight="normal" fill="#4a4a4a" textLength="147.98" lengthAdjust="spacingAndGlyphs" >Your chart</text>
<text x="313.30" y="935.80" font-size="32.7" font-weight="normal" fill="#5b61b8" textLength="173.52" lengthAdjust="spacingAndGlyphs" stroke="#5b61b8" stroke-width="0.9">Open Chart</text></svg>
</div></body></html>
